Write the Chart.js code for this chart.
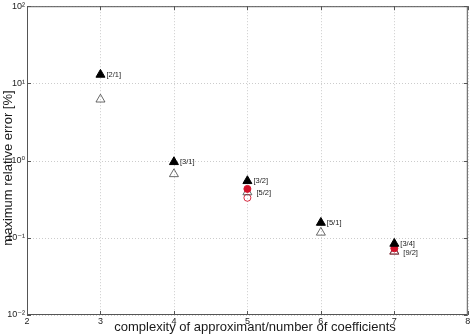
<!DOCTYPE html>
<html>
<head>
<meta charset="utf-8">
<script src="https://cdn.jsdelivr.net/npm/chart.js@4/dist/chart.umd.min.js"></script>
<style>
  html, body { margin: 0; padding: 0; background: #fff; }
  #wrap { width: 474px; height: 335px; }
</style>
</head>
<body>
<div id="wrap"><canvas id="c" width="474" height="335"></canvas></div>
<script>
// number of coefficients
const complexity = [3, 4, 5, 6, 7];

// maximum relative error [%] of the approximants
const bestError   = [13.0, 0.96, 0.545, 0.157, 0.084];   // filled triangles
const bestLabels  = ['[2/1]', '[3/1]', '[3/2]', '[5/1]', '[3/4]'];
const otherError  = [6.2, 0.67, 0.39, 0.117, 0.0665];    // open triangles

const redFilledX = [5, 7];
const redFilledError = [0.43, 0.073];
const redOpenX = [5, 7];
const redOpenError = [0.33, 0.0665];
const redLabels = ['[5/2]', '[9/2]'];
const redLabelError = [0.39, 0.0665];

const xTicks = [2, 3, 4, 5, 6, 7, 8];
const yTicks = [0.01, 0.1, 1, 10, 100];
const yTickText = ['10\u207B\u00B2', '10\u207B\u00B9', '10\u2070', '10\u00B9', '10\u00B2'];

const pts = (xs, ys) => xs.map((x, i) => ({ x: x, y: ys[i] }));
const RED = '#d4142c';
const FONT = "'Liberation Sans', Arial, 'DejaVu Sans', sans-serif";

// dotted grid behind the marks
const dottedGrid = {
  id: 'dottedGrid',
  beforeDatasetsDraw(chart) {
    const { ctx, chartArea: a, scales: { x, y } } = chart;
    ctx.save();
    ctx.strokeStyle = '#cccccc';
    ctx.lineWidth = 1;
    ctx.setLineDash([1, 2]);
    ctx.beginPath();
    xTicks.forEach(v => {
      const px = Math.round(x.getPixelForValue(v)) + 0.5;
      ctx.moveTo(px, a.top); ctx.lineTo(px, a.bottom);
    });
    yTicks.forEach(v => {
      const py = Math.round(y.getPixelForValue(v)) + 0.5;
      ctx.moveTo(a.left, py); ctx.lineTo(a.right, py);
    });
    ctx.stroke();
    ctx.restore();
  }
};

// frame, inward ticks, point labels and axis titles
const decor = {
  id: 'decor',
  afterDatasetsDraw(chart) {
    const { ctx, chartArea: a, scales: { x, y } } = chart;
    ctx.save();
    ctx.strokeStyle = '#555';
    ctx.lineWidth = 1;
    ctx.strokeRect(a.left + 0.5, a.top + 0.5, a.right - a.left - 1, a.bottom - a.top - 1);
    ctx.beginPath();
    xTicks.forEach(v => {
      const px = Math.round(x.getPixelForValue(v)) + 0.5;
      ctx.moveTo(px, a.bottom); ctx.lineTo(px, a.bottom - 4);
      ctx.moveTo(px, a.top); ctx.lineTo(px, a.top + 4);
    });
    yTicks.forEach(v => {
      const py = Math.round(y.getPixelForValue(v)) + 0.5;
      ctx.moveTo(a.left, py); ctx.lineTo(a.left + 4, py);
      ctx.moveTo(a.right, py); ctx.lineTo(a.right - 4, py);
    });
    ctx.stroke();

    ctx.fillStyle = '#222';
    ctx.font = '7.5px ' + FONT;
    ctx.textBaseline = 'middle';
    ctx.textAlign = 'left';
    complexity.forEach((c, i) => {
      ctx.fillText(bestLabels[i], x.getPixelForValue(c) + 6, y.getPixelForValue(bestError[i]));
    });
    redOpenX.forEach((c, i) => {
      ctx.fillText(redLabels[i], x.getPixelForValue(c) + 9, y.getPixelForValue(redLabelError[i]) + 1);
    });

    ctx.font = '13px ' + FONT;
    ctx.fillStyle = '#1a1a1a';
    ctx.textAlign = 'center';
    ctx.fillText('complexity of approximant/number of coefficients', 255, 327);
    ctx.translate(8, 168);
    ctx.rotate(-Math.PI / 2);
    ctx.fillText('maximum relative error [%]', 0, 0);
    ctx.restore();
  }
};

new Chart(document.getElementById('c'), {
  type: 'scatter',
  data: {
    datasets: [
      { data: pts(complexity, bestError), pointStyle: 'triangle', radius: 5.2,
        backgroundColor: '#000', borderColor: '#000', borderWidth: 1 },
      { data: pts(redFilledX, redFilledError), pointStyle: 'circle', radius: 3.5,
        backgroundColor: RED, borderColor: RED, borderWidth: 1 },
      { data: pts(complexity, otherError), pointStyle: 'triangle', radius: 5.2,
        backgroundColor: 'rgba(0,0,0,0)', borderColor: '#444', borderWidth: 0.8 },
      { data: pts([redOpenX[0]], [redOpenError[0]]), pointStyle: 'circle', radius: 3.5,
        backgroundColor: 'rgba(0,0,0,0)', borderColor: RED, borderWidth: 0.9 },
      { data: pts([redOpenX[1]], [redOpenError[1]]), pointStyle: 'triangle', radius: 5.2,
        backgroundColor: 'rgba(0,0,0,0)', borderColor: RED, borderWidth: 0.9 }
    ]
  },
  options: {
    responsive: false,
    animation: false,
    events: [],
    layout: { padding: { top: 4, right: 6, left: 0, bottom: 0 } },
    plugins: { legend: { display: false }, tooltip: { enabled: false } },
    scales: {
      x: {
        type: 'linear', min: 2, max: 8,
        afterBuildTicks: s => { s.ticks = xTicks.map(v => ({ value: v })); },
        afterFit: s => { s.height = 20; s.paddingLeft = 0; s.paddingRight = 0; },
        grid: { display: false, drawTicks: false },
        border: { display: false },
        ticks: { padding: 1, font: { size: 9, family: FONT }, color: '#222', maxRotation: 0 }
      },
      y: {
        type: 'logarithmic', min: 0.01, max: 100,
        afterBuildTicks: s => { s.ticks = yTicks.map(v => ({ value: v })); },
        afterFit: s => { s.width = 27; s.paddingTop = 0; s.paddingBottom = 0; },
        grid: { display: false, drawTicks: false },
        border: { display: false },
        ticks: { padding: 2, font: { size: 9, family: FONT }, color: '#222',
          callback: (v) => { const i = yTicks.indexOf(v); return i >= 0 ? yTickText[i] : ''; } }
      }
    }
  },
  plugins: [dottedGrid, decor]
});
</script>
</body>
</html>
